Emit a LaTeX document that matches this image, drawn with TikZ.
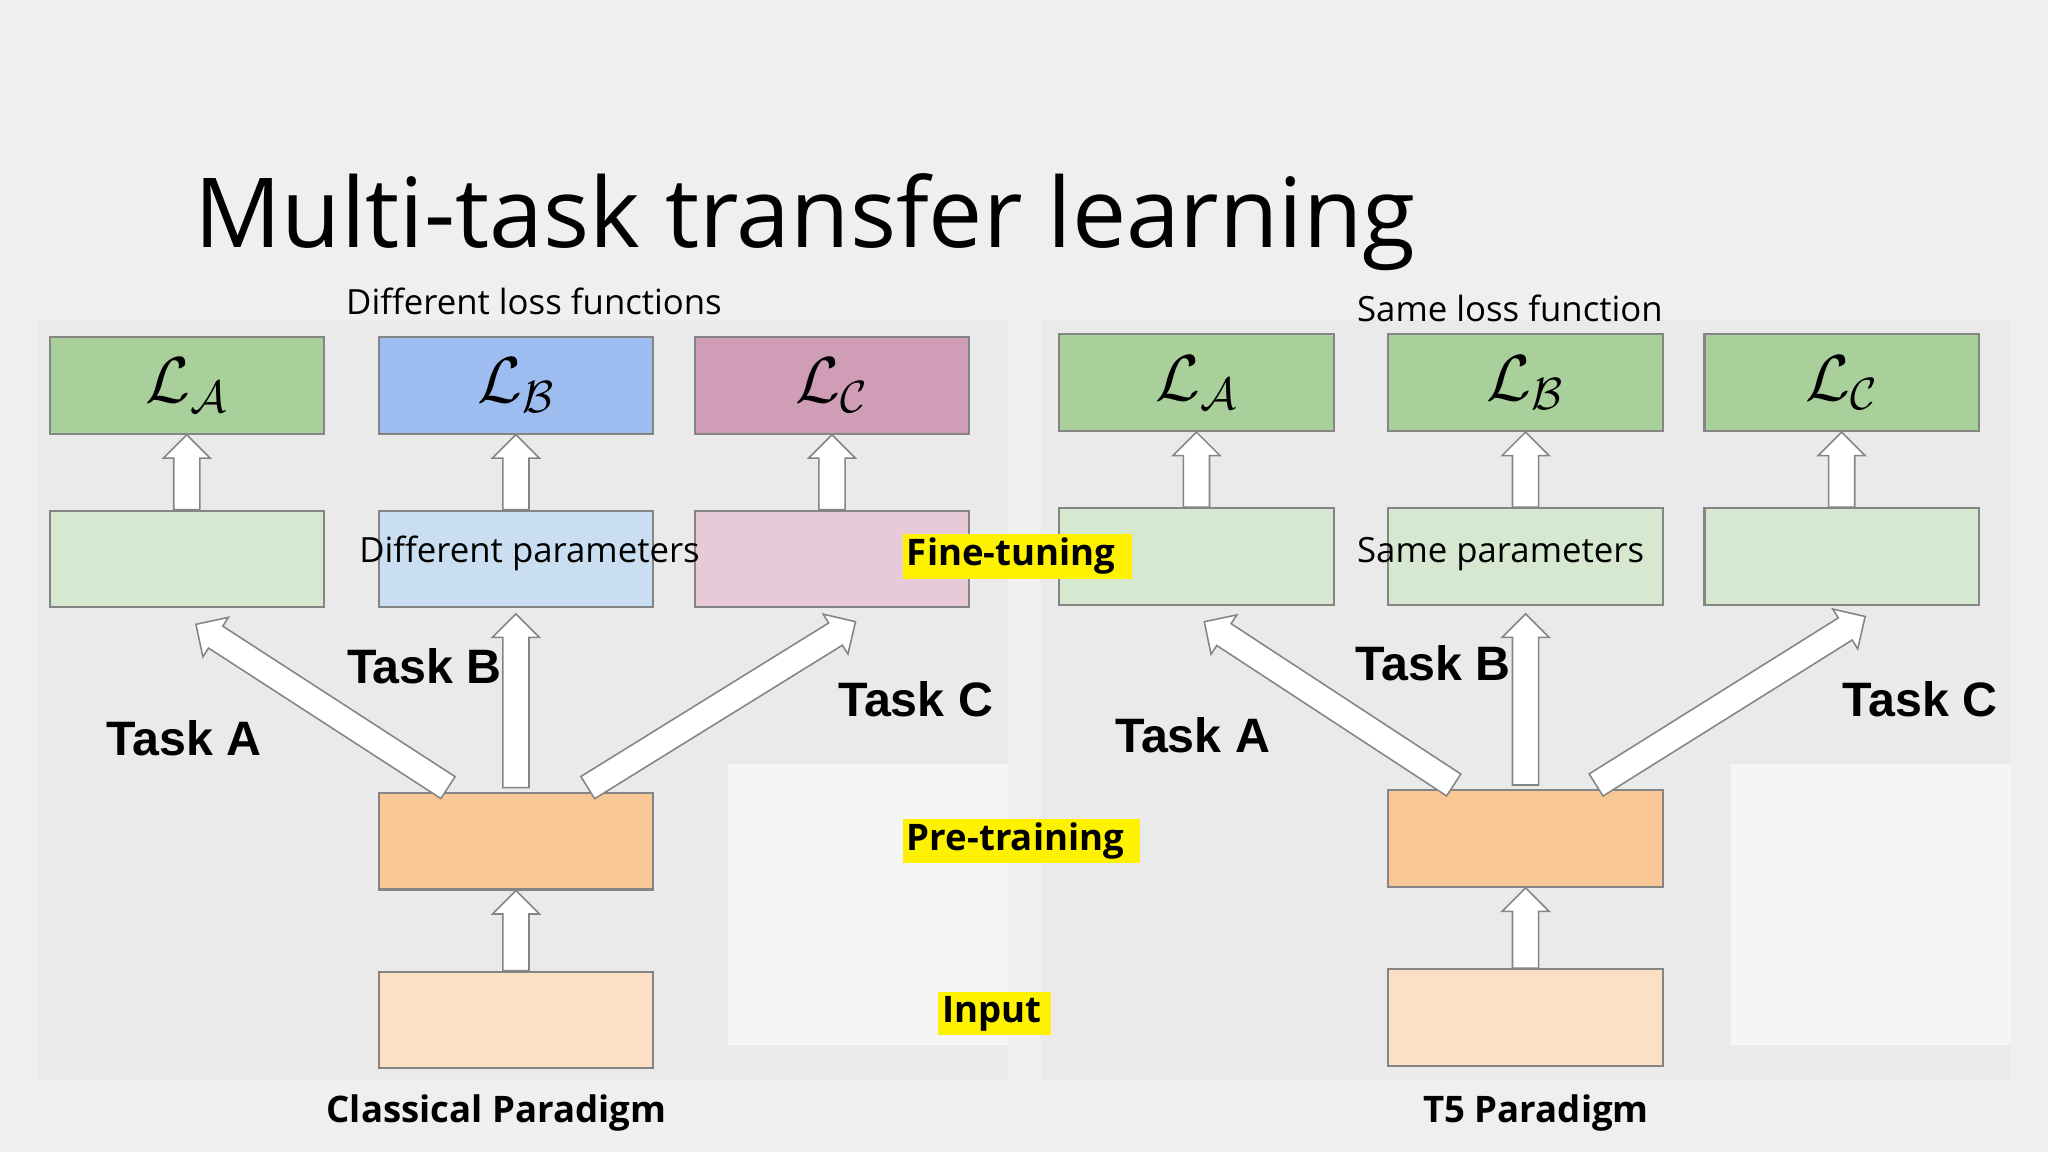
\documentclass[tikz,border=0pt]{standalone}
\usepackage{fontspec}
\setmainfont{Open Sans}
\newfontfamily\arialb{Liberation Sans}
\usetikzlibrary{calc}
\definecolor{bg}{HTML}{EFEFEF}
\definecolor{panel}{HTML}{EAEAEA}
\definecolor{gA}{HTML}{A9D09B}
\definecolor{bB}{HTML}{9DBDF0}
\definecolor{pC}{HTML}{D09DB7}
\definecolor{lgA}{HTML}{D6E8D0}
\definecolor{lbB}{HTML}{C9DEF0}
\definecolor{lpC}{HTML}{E8C9D7}
\definecolor{orn}{HTML}{F8C795}
\definecolor{lorn}{HTML}{FCE0C6}
\definecolor{edge}{HTML}{858585}
\tikzset{
 box/.style={draw=edge,line width=0.8pt,minimum width=105pt,minimum height=37pt,inner sep=0pt},
 hol/.style={draw=edge,line width=0.6pt,fill=white},
 task/.style={font=\arialb\bfseries\fontsize{18.5}{22}\selectfont},
 hl/.style={fill=yellow,font=\bfseries\fontsize{14}{16}\selectfont,inner sep=1.5pt},
 lbl/.style={font=\fontsize{13.3}{15}\selectfont},
 lss/.style={font=\fontsize{27}{30}\selectfont}
}
\newcommand\harrow[2]{%
 \draw[hol] ($(#1)!5pt!90:(#2)$) -- ($($(#2)!9pt!(#1)$)!5pt!90:(#2)$) -- ($($(#2)!9pt!(#1)$)!9pt!90:(#2)$) -- (#2)
 -- ($($(#2)!9pt!(#1)$)!9pt!-90:(#2)$) -- ($($(#2)!9pt!(#1)$)!5pt!-90:(#2)$) -- ($(#1)!5pt!-90:(#2)$) -- cycle;}
\begin{document}
\begin{tikzpicture}[x=0.5pt,y=-0.5pt]
\fill[bg] (0,0) rectangle (1568,882);
\useasboundingbox (0,0) rectangle (1568,882);
\fill[panel] (28,245) rectangle (772,828);
\fill[panel] (797,245) rectangle (1540,828);
\fill[white!35!bg] (557,585) rectangle (772,800);
\fill[white!35!bg] (1325,585) rectangle (1540,800);
\node[anchor=west,font=\fontsize{37}{44}\selectfont] (title) at (142,170) {Multi-task transfer learning};
\node[lbl,anchor=west] (dlf) at (258,231) {Different loss functions};
\node[lbl,anchor=west] (slf) at (1032,236) {Same loss function};
% left
\node[box,fill=gA,lss] (la) at (143,295) {$\mathcal{L}_{\mathcal{A}}$};
\node[box,fill=bB,lss] (lb) at (395,295) {$\mathcal{L}_{\mathcal{B}}$};
\node[box,fill=pC,lss] (lc) at (637,295) {$\mathcal{L}_{\mathcal{C}}$};
\node[box,fill=lgA] (pa) at (143,428) {};
\node[box,fill=lbB] (pb) at (395,428) {};
\node[box,fill=lpC] (pc) at (637,428) {};
\node[box,fill=orn] (pre) at (395,644) {};
\node[box,fill=lorn] (inp) at (395,781) {};
\harrow{pa.north}{la.south}
\harrow{pb.north}{lb.south}
\harrow{pc.north}{lc.south}
\harrow{inp.north}{pre.south}
\coordinate (a1) at (343,603); \coordinate (a1e) at (150,478);
\coordinate (b1) at (395,603); \coordinate (b1e) at (395,470);
\coordinate (c1) at (450,603); \coordinate (c1e) at (655,476);
\harrow{a1}{a1e}\harrow{b1}{b1e}\harrow{c1}{c1e}
\node[lbl,anchor=west] (dp) at (268,424) {Different parameters};
\node[task] (ta1) at (141,565) {Task A};
\node[task] (tb1) at (325,510) {Task B};
\node[task] (tc1) at (701,535) {Task C};
% right
\node[box,fill=gA,lss] (ra) at (916,293) {$\mathcal{L}_{\mathcal{A}}$};
\node[box,fill=gA,lss] (rb) at (1168,293) {$\mathcal{L}_{\mathcal{B}}$};
\node[box,fill=gA,lss] (rc) at (1410,293) {$\mathcal{L}_{\mathcal{C}}$};
\node[box,fill=lgA] (qa) at (916,426) {};
\node[box,fill=lgA] (qb) at (1168,426) {};
\node[box,fill=lgA] (qc) at (1410,426) {};
\node[box,fill=orn] (rpre) at (1168,642) {};
\node[box,fill=lorn] (rinp) at (1168,779) {};
\harrow{qa.north}{ra.south}
\harrow{qb.north}{rb.south}
\harrow{qc.north}{rc.south}
\harrow{rinp.north}{rpre.south}
\coordinate (a2) at (1113,601); \coordinate (a2e) at (922,476);
\coordinate (b2) at (1168,601); \coordinate (b2e) at (1168,470);
\coordinate (c2) at (1222,601); \coordinate (c2e) at (1428,472);
\harrow{a2}{a2e}\harrow{b2}{b2e}\harrow{c2}{c2e}
\node[lbl,anchor=west] (sp) at (1032,424) {Same parameters};
\node[task] (ta2) at (913,563) {Task A};
\node[task] (tb2) at (1097,508) {Task B};
\node[task] (tc2) at (1470,535) {Task C};
% highlights
\node[hl,anchor=west] (ft) at (691,426) {Fine-tuning\,\,};
\node[hl,anchor=west] (pt) at (691,644) {Pre-training\,\,};
\node[hl,anchor=west] (in) at (718,776) {Input\,};
\node[font=\bfseries\fontsize{14}{16}\selectfont] (cp) at (380,852) {Classical Paradigm};
\node[font=\bfseries\fontsize{14}{16}\selectfont] (t5) at (1176,852) {T5 Paradigm};
\end{tikzpicture}
\end{document}
